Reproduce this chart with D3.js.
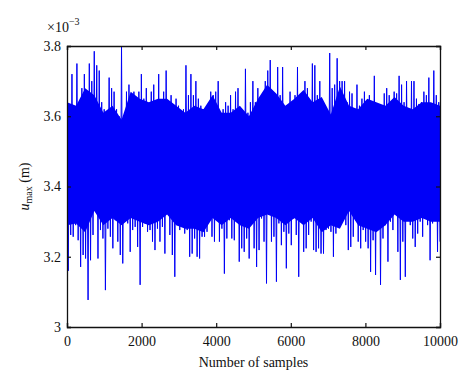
<!DOCTYPE html>
<html>
<head>
<meta charset="utf-8">
<script src="https://cdn.jsdelivr.net/npm/d3@7"></script>
<style>
html,body{margin:0;padding:0;background:#fff;}
svg{display:block;}
text{font-family:"Liberation Serif","Times New Roman",serif;fill:#111;}
</style>
</head>
<body>
<svg id="chart" width="474" height="387"></svg>
<script>
// Upper envelope peaks (×10^-3 m), left to right
const upperPeaks = [
 3.63,3.61,3.72,3.62,3.75,3.63,3.68,3.72,3.64,3.75,3.70,3.785,3.745,3.73,3.64,3.62,3.60,3.71,3.68,3.67,
 3.62,3.60,3.80,3.58,3.67,3.69,3.66,3.67,3.64,3.67,3.72,3.65,3.68,3.60,3.67,3.69,3.63,3.72,3.60,3.67,
 3.73,3.64,3.66,3.63,3.65,3.63,3.60,3.62,3.745,3.66,
 3.72,3.66,3.70,3.65,3.63,3.62,3.59,3.60,3.67,3.66,3.67,3.70,3.61,3.62,3.64,3.63,3.66,3.62,3.67,3.68,
 3.62,3.61,3.735,3.61,3.64,3.70,3.64,3.68,3.64,3.66,3.70,3.73,3.76,3.67,3.64,3.74,3.66,3.74,3.62,3.62,
 3.67,3.64,3.66,3.74,3.66,3.64,3.70,3.68,3.62,3.75,
 3.745,3.66,3.70,3.62,3.60,3.61,3.78,3.68,3.69,3.765,3.70,3.70,3.70,3.64,3.67,3.665,3.59,3.69,3.63,3.65,
 3.67,3.63,3.66,3.64,3.715,3.63,3.63,3.60,3.665,3.68,3.66,3.63,3.67,3.665,3.715,3.69,3.64,3.70,3.60,3.70,
 3.70,3.65,3.635,3.64,3.67,3.66,3.71,3.60,3.73,3.66,3.64
];
// Lower envelope troughs (×10^-3 m), left to right
const lowerPeaks = [
 3.16,3.262,3.257,3.29,3.247,3.171,3.205,3.195,3.077,3.19,3.262,3.337,3.195,3.276,3.252,3.105,3.28,3.257,3.224,3.304,
 3.243,3.205,3.181,3.319,3.295,3.214,3.276,3.285,3.228,3.12,3.285,3.295,3.271,3.276,3.243,3.219,3.28,3.243,3.285,3.209,
 3.328,3.262,3.205,3.143,3.29,3.276,3.319,3.266,3.276,3.20,
 3.209,3.252,3.20,3.195,3.257,3.257,3.271,3.309,3.257,3.243,3.304,3.243,3.28,3.152,3.252,3.304,3.252,3.247,3.304,3.186,
 3.224,3.214,3.252,3.195,3.314,3.224,3.171,3.219,3.309,3.243,3.124,3.319,3.243,3.257,3.129,3.295,3.233,3.271,3.167,3.266,
 3.233,3.309,3.262,3.143,3.319,3.214,3.224,3.262,3.30,3.219,
 3.214,3.224,3.209,3.209,3.276,3.28,3.271,3.20,3.266,3.29,3.319,3.333,3.29,3.219,3.228,3.257,3.304,3.243,3.224,3.276,
 3.243,3.224,3.157,3.247,3.148,3.29,3.12,3.252,3.29,3.186,3.30,3.276,3.347,3.214,3.134,3.243,3.143,3.309,3.29,3.252,
 3.228,3.266,3.30,3.257,3.319,3.29,3.19,3.295,3.328,3.214,3.243
];
// Edges of the dense (solid) part of the band, read about every 244 samples
const coreTop = [
 3.64,3.63,3.68,3.66,3.61,3.63,3.59,3.67,3.65,3.64,3.65,3.65,3.63,3.61,
 3.63,3.62,3.66,3.61,3.61,3.63,3.60,3.65,3.69,3.665,3.63,3.65,3.675,3.64,
 3.655,3.605,3.685,3.63,3.62,3.65,3.64,3.63,3.655,3.63,3.62,3.64,3.64,3.63
];
const coreBottom = [
 3.29,3.295,3.27,3.33,3.29,3.31,3.29,3.31,3.30,3.29,3.30,3.32,3.29,3.28,
 3.28,3.27,3.31,3.29,3.31,3.29,3.28,3.31,3.32,3.31,3.29,3.31,3.29,3.31,
 3.27,3.29,3.28,3.33,3.29,3.28,3.27,3.29,3.32,3.30,3.30,3.31,3.30,3.30
];
const xTicks = [0, 2000, 4000, 6000, 8000, 10000];
const yTicks = [3, 3.2, 3.4, 3.6, 3.8];
const xLabel = "Number of samples";
const nSamples = 10000;

const svg = d3.select("#chart");
const m = {left: 67, right: 440, top: 46, bottom: 327};
const x = d3.scaleLinear().domain([0, nSamples]).range([m.left, m.right]);
const y = d3.scaleLinear().domain([3, 3.8]).range([m.bottom, m.top]);

// Build the series by alternating upper and lower readings
const series = [];
const nPairs = Math.min(upperPeaks.length, lowerPeaks.length);
for (let k = 0; k < nPairs; k++) {
  series.push(upperPeaks[k]);
  series.push(lowerPeaks[k]);
}
const step = nSamples / (series.length - 1);

svg.append("defs").append("clipPath").attr("id", "clip")
  .append("rect").attr("x", m.left).attr("y", m.top)
  .attr("width", m.right - m.left).attr("height", m.bottom - m.top);

const blue = "#0000f8";
// dense core of the signal
const coreStep = nSamples / (coreTop.length - 1);
svg.append("path")
  .datum(coreTop.map((t, i) => [t, coreBottom[i]]))
  .attr("clip-path", "url(#clip)")
  .attr("fill", blue)
  .attr("d", d3.area()
    .x((d, i) => x(i * coreStep)).y0(d => y(d[1])).y1(d => y(d[0])));

svg.append("path")
  .datum(series)
  .attr("clip-path", "url(#clip)")
  .attr("fill", "none")
  .attr("stroke", blue)
  .attr("stroke-width", 1)
  .attr("d", d3.line().x((d, i) => x(i * step)).y(d => y(d)));

// Axes with inward ticks (box style)
const tl = 4;
const fs = 14;
const gB = svg.append("g").attr("transform", `translate(0,${m.bottom})`)
  .call(d3.axisBottom(x).tickValues(xTicks).tickSize(-tl).tickPadding(6).tickFormat(d3.format("d")));
const gT = svg.append("g").attr("transform", `translate(0,${m.top})`)
  .call(d3.axisTop(x).tickValues(xTicks).tickSize(-tl).tickFormat(""));
const gL = svg.append("g").attr("transform", `translate(${m.left},0)`)
  .call(d3.axisLeft(y).tickValues(yTicks).tickSize(-tl).tickPadding(6).tickFormat(d => d3.format("")(+d.toFixed(1))));
const gR = svg.append("g").attr("transform", `translate(${m.right},0)`)
  .call(d3.axisRight(y).tickValues(yTicks).tickSize(-tl).tickFormat(""));

[gB, gT, gL, gR].forEach(g => {
  g.select(".domain").attr("stroke", "#111").attr("stroke-width", 1.3);
  g.selectAll(".tick line").attr("stroke", "#111").attr("stroke-width", 1.2);
  g.selectAll(".tick text").attr("font-family", "Liberation Serif, serif").attr("font-size", fs).attr("fill", "#111");
});
gB.selectAll(".tick text").attr("dy", "0.9em");

// Multiplier label
const mult = svg.append("text").attr("x", 47).attr("y", 32).attr("font-size", fs);
mult.append("tspan").text("×10");
mult.append("tspan").attr("dy", -7).attr("font-size", 10).text("−3");

// Y label
const yl = svg.append("text")
  .attr("transform", `translate(29,${(m.top + m.bottom) / 2}) rotate(-90)`)
  .attr("text-anchor", "middle").attr("font-size", fs);
yl.append("tspan").attr("font-style", "italic").text("u");
yl.append("tspan").attr("font-size", 10).attr("dy", 3).text("max");
yl.append("tspan").attr("dy", -3).text(" (m)");

// X label
svg.append("text").attr("x", (m.left + m.right) / 2).attr("y", 367)
  .attr("text-anchor", "middle").attr("font-size", fs).text(xLabel);
</script>
</body>
</html>
